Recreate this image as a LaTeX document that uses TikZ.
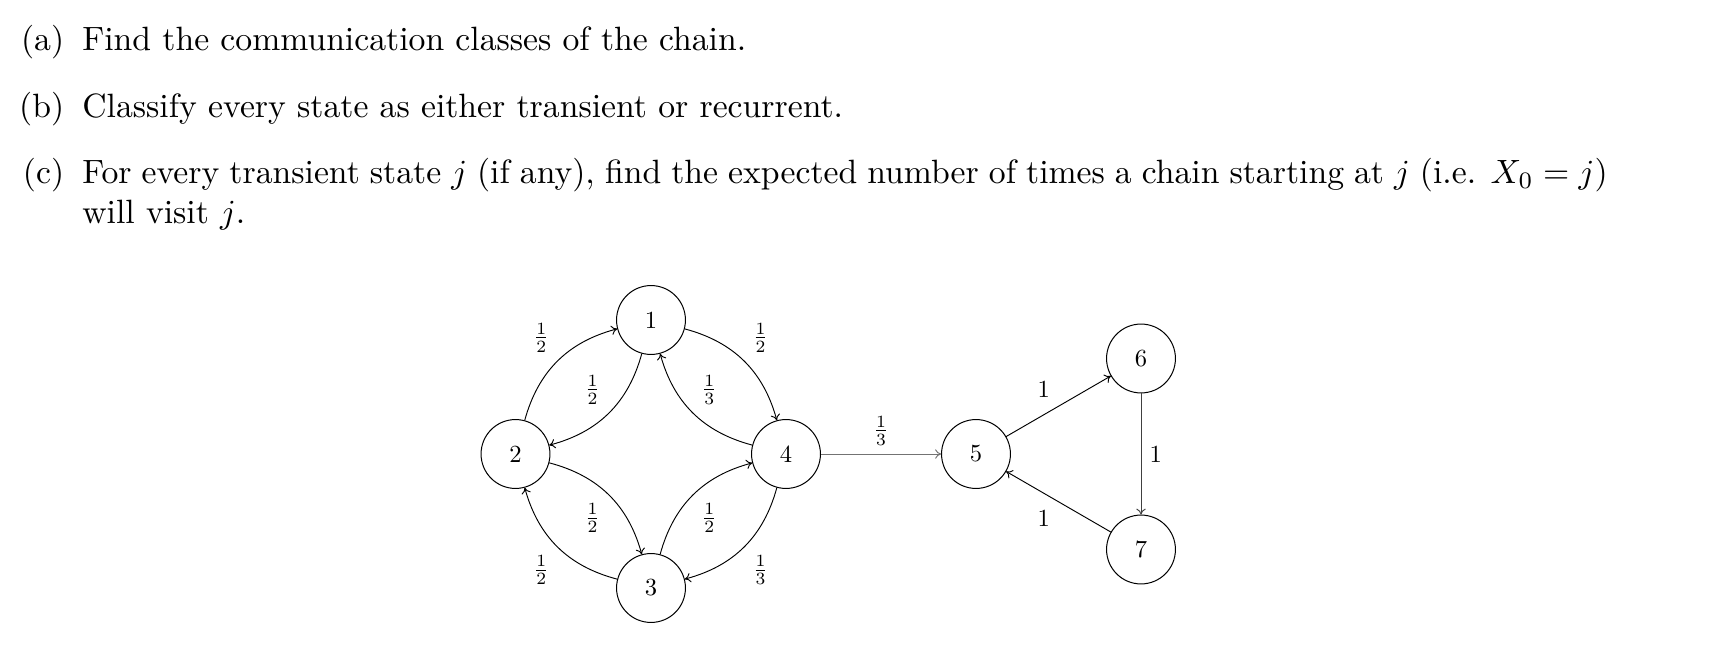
\documentclass[tikz,border=0pt]{standalone}
\usetikzlibrary{arrows.meta}
\begin{document}
\begin{tikzpicture}[x=0.29674pt,y=-0.29674pt,
  state/.style={circle,draw,line width=0.3pt,minimum size=28pt,inner sep=0pt,scale=0.73,transform shape},
  lab/.style={scale=0.73,transform shape,auto},
  edge/.style={line width=0.28pt,-{To[length=1.8pt,width=2.8pt]}},
  txt/.style={anchor=base west,inner sep=0pt},
  itemlab/.style={anchor=base east,inner sep=0pt}]
\useasboundingbox (0,0) rectangle (1712,652);
% question text
\node[itemlab] (la) at (64.85,50.7) {(a)};
\node[txt] (ta) at (81.7,50.7) {Find the communication classes of the chain.};
\node[itemlab] (lb) at (64.85,117) {(b)};
\node[txt] (tb) at (81.7,117) {Classify every state as either transient or recurrent.};
\node[itemlab] (lc) at (64.85,183.5) {(c)};
\node[txt] (tc) at (81.7,183.5) {\makebox[452.6pt][s]{For every transient state $j$ (if any), find the expected number of times a chain starting at $j$ (i.e. $X_0 = j$)}};
\node[txt] (tc2) at (81.7,223.5) {will visit $j$.};
% states
\node[state] (n1) at (651,320) {1};
\node[state] (n2) at (515.5,454) {2};
\node[state] (n3) at (651,588) {3};
\node[state] (n4) at (786,454) {4};
\node[state] (n5) at (976,454) {5};
\node[state] (n6) at (1141,358.5) {6};
\node[state] (n7) at (1141,549.5) {7};
% transitions
\draw[edge] (n2) to[bend left=30] node[lab] {$\frac{1}{2}$} (n1);
\draw[edge] (n1) to[bend left=30] node[lab,swap] {$\frac{1}{2}$} (n2);
\draw[edge] (n1) to[bend left=30] node[lab] {$\frac{1}{2}$} (n4);
\draw[edge] (n4) to[bend left=30] node[lab,swap] {$\frac{1}{3}$} (n1);
\draw[edge] (n2) to[bend left=30] node[lab,swap] {$\frac{1}{2}$} (n3);
\draw[edge] (n3) to[bend left=30] node[lab] {$\frac{1}{2}$} (n2);
\draw[edge] (n3) to[bend left=30] node[lab,swap] {$\frac{1}{2}$} (n4);
\draw[edge] (n4) to[bend left=30] node[lab] {$\frac{1}{3}$} (n3);
\draw[edge,draw=black!55] (n4) -- node[lab] {$\frac{1}{3}$} (n5);
\draw[edge] (n5) -- node[lab] {1} (n6);
\draw[edge,draw=black!75] (n6) -- node[lab] {1} (n7);
\draw[edge] (n7) -- node[lab] {1} (n5);
\end{tikzpicture}
\end{document}
